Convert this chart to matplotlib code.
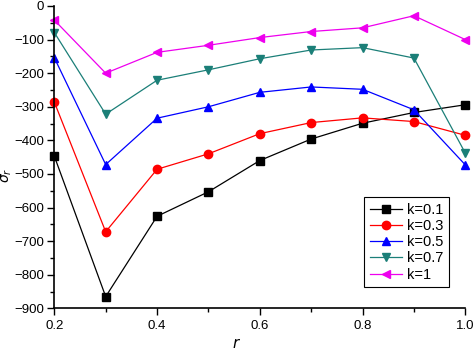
import matplotlib
matplotlib.use("Agg")
import matplotlib.pyplot as plt
from matplotlib.ticker import MultipleLocator

plt.rcParams["font.family"] = ["Liberation Sans", "DejaVu Sans"]

r = [0.2, 0.3, 0.4, 0.5, 0.6, 0.7, 0.8, 0.9, 1.0]
k_01 = [-447, -865, -626, -553, -460, -396, -349, -317, -294]
k_03 = [-286, -672, -486, -440, -380, -347, -333, -344, -385]
k_05 = [-154, -472, -334, -300, -257, -241, -248, -309, -473]
k_07 = [-79, -322, -221, -190, -157, -131, -124, -155, -438]
k_1 = [-42, -200, -138, -117, -94, -76, -65, -29, -100]

series = [
    ("k=0.1", k_01, "black", "s"),
    ("k=0.3", k_03, "red", "o"),
    ("k=0.5", k_05, "blue", "^"),
    ("k=0.7", k_07, "#1b7f78", "v"),
    ("k=1", k_1, "#ee00ee", "<"),
]

fig = plt.figure(figsize=(4.74, 3.52), dpi=100)
ax = fig.add_axes([0.1146, 0.124, 0.8671, 0.859])

for label, vals, color, marker in series:
    ax.plot(r, vals, color=color, marker=marker, markersize=6,
            linewidth=0.9, label=label, clip_on=False)

ax.set_xlim(0.2, 1.0)
ax.set_ylim(-900, 0)
ax.xaxis.set_major_locator(MultipleLocator(0.2))
ax.xaxis.set_minor_locator(MultipleLocator(0.1))
ax.yaxis.set_major_locator(MultipleLocator(100))
ax.yaxis.set_minor_locator(MultipleLocator(50))
ax.tick_params(which="major", direction="out", length=5, width=1, labelsize=9.5)
ax.tick_params(which="minor", direction="out", length=3, width=1)
ax.tick_params(axis="y", which="major", pad=2.5)
ax.set_xticks([0.2, 0.4, 0.6, 0.8, 1.0])
ax.set_xticklabels(["0.2", "0.4", "0.6", "0.8", "1.0"])

for side in ["top", "right"]:
    ax.spines[side].set_visible(False)
for side in ["left", "bottom"]:
    ax.spines[side].set_linewidth(1.2)

ax.set_xlabel(r"$r$", fontsize=11)
ax.set_ylabel(r"$\sigma_r$", fontsize=10)
ax.xaxis.set_label_coords(0.444, -0.095)
ax.yaxis.set_label_coords(-0.098, 0.44)

leg = ax.legend(loc="upper right", bbox_to_anchor=(0.960, 0.368),
                borderaxespad=0, fancybox=False, framealpha=1,
                edgecolor="black", fontsize=10.5, handlelength=2.2,
                handletextpad=0.3, labelspacing=0.15, borderpad=0.4)
leg.get_frame().set_linewidth(0.8)

fig.savefig("out.png", dpi=100)
